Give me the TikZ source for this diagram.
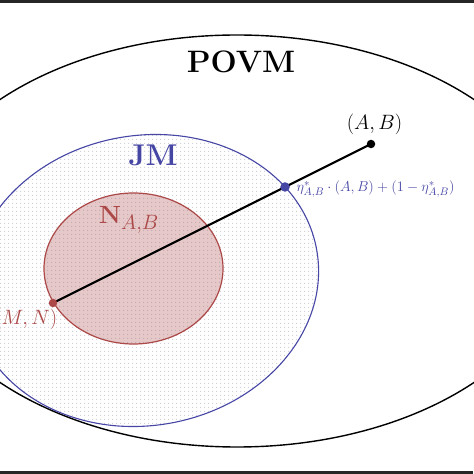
\documentclass[tikz,border=0pt]{standalone}
\usetikzlibrary{intersections,patterns.meta}
\definecolor{jmblue}{RGB}{70,70,165}
\definecolor{nred}{RGB}{172,72,72}
\definecolor{npink}{RGB}{230,200,200}
\definecolor{dotgray}{RGB}{125,125,150}
\tikzdeclarepattern{
  name=mydots,
  type=uncolored,
  bounding box={(0pt,0pt) and (4.2pt,4.2pt)},
  tile size={(4.2pt,4.2pt)},
  code={\pgfpathcircle{\pgfpoint{2.1pt}{2.1pt}}{0.5pt}\pgfusepath{fill}}
}
\tikzset{
  dotnode/.style={circle,inner sep=0pt,minimum size=8.5pt},
  bigbf/.style={font=\fontsize{31}{31}\selectfont\bfseries},
  ptlabel/.style={font=\fontsize{22}{22}\selectfont,inner sep=0pt},
  bar/.style={fill=black!85}
}
\begin{document}
\begin{tikzpicture}[x=1pt,y=1pt]
\useasboundingbox (0,0) rectangle (474,474);
\clip (0,0) rectangle (474,474);
% outer POVM ellipse
\draw[line width=1.4pt] (237,233) ellipse [x radius=326, y radius=206];
% JM set
\path[name path=jm, rotate around={10:(144.4,193.5)}]
  (144.4,193.5) ellipse [x radius=175, y radius=145];
\fill[white, rotate around={10:(144.4,193.5)}]
  (144.4,193.5) ellipse [x radius=175, y radius=145];
\fill[pattern=mydots, pattern color=dotgray, rotate around={10:(144.4,193.5)}]
  (144.4,193.5) ellipse [x radius=175, y radius=145];
\draw[jmblue, line width=1.1pt, rotate around={10:(144.4,193.5)}]
  (144.4,193.5) ellipse [x radius=175, y radius=145];
% N_{A,B}
\fill[npink] (133.5,205.5) ellipse [x radius=89.5, y radius=75.5];
\fill[pattern=mydots, pattern color=dotgray] (133.5,205.5) ellipse [x radius=89.5, y radius=75.5];
\draw[nred, line width=1.2pt] (133.5,205.5) ellipse [x radius=89.5, y radius=75.5];
% points and segment
\coordinate (mnc) at (53,171);
\coordinate (abc) at (371,330);
\path[name path=seg] (mnc) -- (abc);
\path[name intersections={of=jm and seg, by=bdc}];
\draw[line width=2.2pt] (mnc) -- (abc);
\node[dotnode, fill=nred] (mn) at (mnc) {};
\node[dotnode, fill=black] (ab) at (abc) {};
\node[dotnode, fill=jmblue, minimum size=9.5pt] (bd) at (bdc) {};
% labels
\node[bigbf, anchor=base, inner sep=0pt] (povm) at (241,401.3) {POVM};
\node[jmblue, font=\fontsize{30}{30}\selectfont\bfseries, anchor=base, inner sep=0pt] (jmlab) at (153,308) {JM};
\node[nred, font=\fontsize{30}{30}\selectfont, anchor=base west, inner sep=0pt] (nlab) at (99,250) {$\mathbf{N}_{A,B}$};
\node[ptlabel, anchor=base] (ablab) at (374.5,344.5) {$(A,B)$};
\node[ptlabel, nred, anchor=base east] (mnlab) at (57.5,149.5) {$(M,N)$};
\node[jmblue, font=\fontsize{15.8}{15.8}\selectfont, anchor=base west, inner sep=0pt] (etalab) at (296.5,282)
  {$\eta^*_{A,B}\cdot(A,B)+(1-\eta^*_{A,B})$};
% frame bars
\fill[bar] (0,471) rectangle (474,474);
\fill[bar] (0,0) rectangle (473,3);
\end{tikzpicture}
\end{document}
